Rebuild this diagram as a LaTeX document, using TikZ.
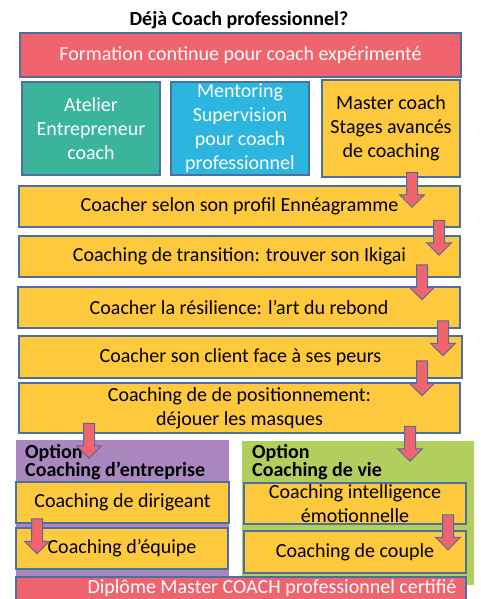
\documentclass[tikz,border=0pt]{standalone}
\usepackage{fontspec}
\setmainfont{Carlito}
\usetikzlibrary{positioning,shapes.arrows}
\definecolor{edgeblue}{HTML}{4A6FA0}
\definecolor{coachred}{HTML}{F0646E}
\definecolor{coachteal}{HTML}{3AB59C}
\definecolor{coachsky}{HTML}{2CB5DE}
\definecolor{coachgold}{HTML}{FFC93D}
\definecolor{coachmauve}{HTML}{AA87BF}
\definecolor{coachgreen}{HTML}{B2CF5E}
\tikzset{
  plainbox/.style={draw=edgeblue, line width=1.2pt, inner sep=1pt, align=center, font=\fontsize{20}{24}\selectfont},
  redbox/.style={plainbox, fill=coachred, text=white},
  tealbox/.style={plainbox, fill=coachteal, text=white},
  skybox/.style={plainbox, fill=coachsky, text=white},
  goldbox/.style={plainbox, fill=coachgold, text=black},
  panel/.style={fill=#1, inner sep=0pt},
  optiontitle/.style={font=\bfseries\fontsize{20}{17}\selectfont, align=left, anchor=north west, inner sep=0pt},
  downarrow/.style={single arrow, draw=edgeblue, fill=coachred, line width=1pt, shape border rotate=270,
    minimum width=24, minimum height=35, single arrow head extend=7, inner sep=5pt}
}

\begin{document}
\begin{tikzpicture}[x=1pt, y=-1pt]
  \useasboundingbox (0,0) rectangle (480,599);
  \node[font=\bfseries\fontsize{20}{24}\selectfont] (titre) at (239,20) {Déjà Coach professionnel?};
  \node[redbox, minimum width=441, minimum height=44] (formation) at (240.5,55) {Formation continue pour coach expérimenté};
  \node[tealbox, minimum width=138, minimum height=93] (atelier) at (91,128.5) {Atelier\\Entrepreneur\\coach};
  \node[skybox, minimum width=138, minimum height=93, inner sep=0pt] (mentoring) at (240,128.5) {Mentoring\\Supervision\\pour coach\\professionnel};
  \node[goldbox, minimum width=138, minimum height=97] (master) at (391,128.5) {Master coach\\Stages avancés\\de coaching};
  % parcours commun
  \node[goldbox, minimum width=441, minimum height=41] (enneagramme) at (239.5,206.5) {Coacher selon son profil Ennéagramme};
  \node[goldbox, minimum width=441, minimum height=41] (ikigai) at (239.5,256.5) {Coaching de transition: trouver son Ikigai};
  \node[goldbox, minimum width=442, minimum height=41] (resilience) at (239,307.5) {Coacher la résilience: l’art du rebond};
  \node[goldbox, minimum width=443, minimum height=42] (peurs) at (240.5,357) {Coacher son client face à ses peurs};
  \node[goldbox, minimum width=441, minimum height=50] (masques) at (239.5,408) {Coaching de de positionnement:\\déjouer les masques};
  % options
  \node[panel=coachmauve, minimum width=213, minimum height=140] (entreprise) at (122.5,510) {};
  \node[panel=coachgreen, minimum width=232, minimum height=144] (vie) at (358,513) {};
  \node[optiontitle] (titreentreprise) at (25,444) {Option\\Coaching d’entreprise};
  \node[optiontitle] (titrevie) at (252,444) {Option\\Coaching de vie};
  \node[goldbox, minimum width=213, minimum height=41] (dirigeant) at (122.5,502.5) {Coaching de dirigeant};
  \node[goldbox, minimum width=212, minimum height=41] (equipe) at (122,548.5) {Coaching d’équipe};
  \node[goldbox, minimum width=222, minimum height=41, inner sep=0pt] (emotion) at (355,503.5) {Coaching intelligence\\émotionnelle};
  \node[goldbox, minimum width=222, minimum height=42] (couple) at (355,552) {Coaching de couple};
  \node[redbox, minimum width=450, minimum height=26, inner sep=0pt] (diplome) at (241,590) {};
  \node[text=white, font=\fontsize{20}{24}\selectfont, anchor=base, inner sep=0pt] (diplometexte) at (272,593) {Diplôme Master COACH professionnel certifié};
  % fleches
  \node[downarrow] (f1) at (412,187) {};
  \node[downarrow] (f2) at (439,235) {};
  \node[downarrow] (f3) at (422,279.5) {};
  \node[downarrow] (f4) at (443,335.5) {};
  \node[downarrow] (f5) at (422,375.5) {};
  \node[downarrow] (f6) at (89,438) {};
  \node[downarrow] (f7) at (410,441) {};
  \node[downarrow] (f8) at (37,533.5) {};
  \node[downarrow] (f9) at (448,529.5) {};
\end{tikzpicture}
\end{document}
